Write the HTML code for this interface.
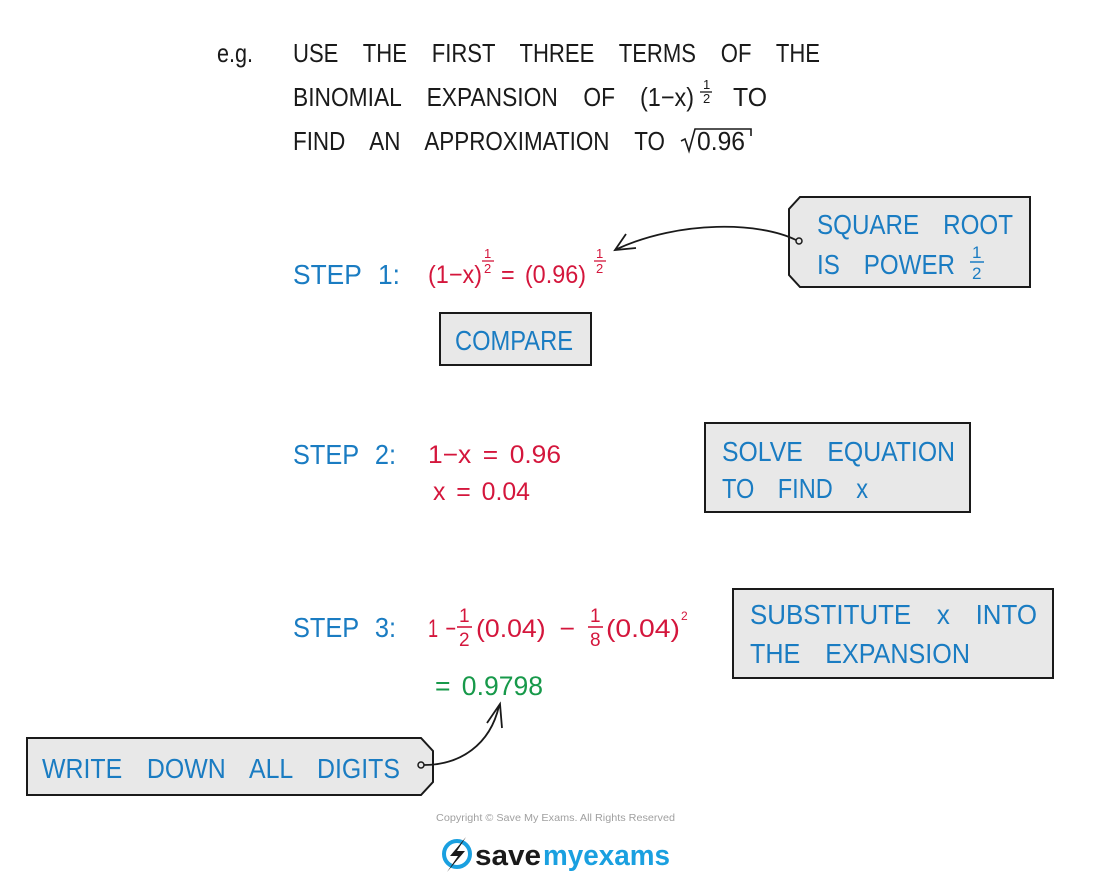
<!DOCTYPE html>
<html><head><meta charset="utf-8"><style>
html,body{margin:0;padding:0;background:#fff;width:1100px;height:884px;overflow:hidden}
svg text{font-family:"Liberation Sans",sans-serif}
.k{fill:#1a1a1a;font-size:26px}
.b{fill:#1a7cc2;font-size:28px}
.r{fill:#d4163c;font-size:25px}
.g{fill:#17994a;font-size:27px}
.f{font-size:13px}
</style></head><body>
<svg width="1100" height="884" viewBox="0 0 1100 884" xmlns="http://www.w3.org/2000/svg">
<!-- header -->
<text class="k" x="217" y="62" textLength="36" lengthAdjust="spacingAndGlyphs">e.g.</text>
<text class="k" x="293" y="62" textLength="527" lengthAdjust="spacingAndGlyphs" word-spacing="22">USE THE FIRST THREE TERMS OF THE</text>
<text class="k" x="293" y="106" textLength="322" lengthAdjust="spacingAndGlyphs" word-spacing="22">BINOMIAL EXPANSION OF</text>
<text class="k" x="640" y="106" textLength="54" lengthAdjust="spacingAndGlyphs">(1−x)</text>
<text class="k f" x="703" y="89">1</text><line x1="700" y1="92" x2="712" y2="92" stroke="#1a1a1a" stroke-width="1.3"/><text class="k f" x="703" y="103">2</text>
<text class="k" x="733" y="106" textLength="34" lengthAdjust="spacingAndGlyphs">TO</text>
<text class="k" x="293" y="150" textLength="372" lengthAdjust="spacingAndGlyphs" word-spacing="22">FIND AN APPROXIMATION TO</text>
<path d="M681 141 L685 139 L689 151 L695 129 L751 129 L751 136" fill="none" stroke="#1a1a1a" stroke-width="1.6"/>
<text class="k" x="697" y="150" textLength="48" lengthAdjust="spacingAndGlyphs">0.96</text>

<!-- step 1 -->
<text class="b" x="293" y="284" textLength="107" lengthAdjust="spacingAndGlyphs" word-spacing="10">STEP 1:</text>
<text class="r" x="428" y="283" textLength="54" lengthAdjust="spacingAndGlyphs">(1−x)</text>
<text class="r f" x="484" y="258">1</text><line x1="482" y1="261" x2="494" y2="261" stroke="#d4163c" stroke-width="1.3"/><text class="r f" x="484" y="273">2</text>
<text class="r" x="501" y="283" textLength="85" lengthAdjust="spacingAndGlyphs" word-spacing="4">= (0.96)</text>
<text class="r f" x="596" y="258">1</text><line x1="594" y1="261" x2="606" y2="261" stroke="#d4163c" stroke-width="1.3"/><text class="r f" x="596" y="273">2</text>

<polygon points="800,197 1030,197 1030,287 800,287 789,275 789,209" fill="#e8e8e8" stroke="#1a1a1a" stroke-width="2"/>
<text class="b" x="817" y="234" textLength="196" lengthAdjust="spacingAndGlyphs" word-spacing="20">SQUARE ROOT</text>
<text class="b" x="817" y="274" textLength="138" lengthAdjust="spacingAndGlyphs" word-spacing="20">IS POWER</text>
<text class="b" x="972" y="258" style="font-size:17px">1</text><line x1="970" y1="262" x2="984" y2="262" stroke="#1a7cc2" stroke-width="1.5"/><text class="b" x="972" y="279" style="font-size:17px">2</text>
<circle cx="799" cy="241" r="3" fill="none" stroke="#1a1a1a" stroke-width="1.5"/>
<path d="M796 240 C760 222 680 220 617 249" fill="none" stroke="#1a1a1a" stroke-width="1.8"/>
<path d="M626 234 L615 250 L636 248" fill="none" stroke="#1a1a1a" stroke-width="1.8"/>

<rect x="440" y="313" width="151" height="52" fill="#e8e8e8" stroke="#1a1a1a" stroke-width="2"/>
<text class="b" x="455" y="350" textLength="118" lengthAdjust="spacingAndGlyphs">COMPARE</text>

<!-- step 2 -->
<text class="b" x="293" y="464" textLength="103" lengthAdjust="spacingAndGlyphs" word-spacing="10">STEP 2:</text>
<text class="r" x="428" y="463" textLength="133" lengthAdjust="spacingAndGlyphs" word-spacing="4">1−x = 0.96</text>
<text class="r" x="433" y="500" textLength="97" lengthAdjust="spacingAndGlyphs" word-spacing="4">x = 0.04</text>
<rect x="705" y="423" width="265" height="89" fill="#e8e8e8" stroke="#1a1a1a" stroke-width="2"/>
<text class="b" x="722" y="461" textLength="233" lengthAdjust="spacingAndGlyphs" word-spacing="20">SOLVE EQUATION</text>
<text class="b" x="722" y="498" textLength="146" lengthAdjust="spacingAndGlyphs" word-spacing="20">TO FIND x</text>

<!-- step 3 -->
<text class="b" x="293" y="637" textLength="103" lengthAdjust="spacingAndGlyphs" word-spacing="10">STEP 3:</text>
<text class="r" x="428" y="637" textLength="28" lengthAdjust="spacingAndGlyphs" word-spacing="3">1 −</text>
<text class="r" x="459" y="622" style="font-size:19px">1</text><line x1="457" y1="627" x2="472" y2="627" stroke="#d4163c" stroke-width="1.6"/><text class="r" x="459" y="646" style="font-size:19px">2</text>
<text class="r" x="476" y="637" textLength="99" lengthAdjust="spacingAndGlyphs" word-spacing="6">(0.04) −</text>
<text class="r" x="590" y="622" style="font-size:19px">1</text><line x1="588" y1="627" x2="603" y2="627" stroke="#d4163c" stroke-width="1.6"/><text class="r" x="590" y="646" style="font-size:19px">8</text>
<text class="r" x="606" y="637" textLength="74" lengthAdjust="spacingAndGlyphs">(0.04)</text>
<text class="r" x="681" y="620" style="font-size:12px">2</text>
<text class="g" x="435" y="695" textLength="108" lengthAdjust="spacingAndGlyphs" word-spacing="4">= 0.9798</text>

<rect x="733" y="589" width="320" height="89" fill="#e8e8e8" stroke="#1a1a1a" stroke-width="2"/>
<text class="b" x="750" y="624" textLength="287" lengthAdjust="spacingAndGlyphs" word-spacing="20">SUBSTITUTE x INTO</text>
<text class="b" x="750" y="663" textLength="220" lengthAdjust="spacingAndGlyphs" word-spacing="20">THE EXPANSION</text>

<polygon points="27,738 421,738 433,751 433,782 421,795 27,795" fill="#e8e8e8" stroke="#1a1a1a" stroke-width="2"/>
<text class="b" x="42" y="778" textLength="358" lengthAdjust="spacingAndGlyphs" word-spacing="20">WRITE DOWN ALL DIGITS</text>
<circle cx="421" cy="765" r="3" fill="none" stroke="#1a1a1a" stroke-width="1.5"/>
<path d="M424 765 C460 765 490 745 499 706" fill="none" stroke="#1a1a1a" stroke-width="1.8"/>
<path d="M487 723 L500 704 L502 728" fill="none" stroke="#1a1a1a" stroke-width="1.8"/>

<!-- footer -->
<text x="436" y="821" fill="#a0a0a0" style="font-size:10.5px" textLength="239" lengthAdjust="spacingAndGlyphs">Copyright © Save My Exams. All Rights Reserved</text>
<circle cx="457" cy="854" r="13" fill="none" stroke="#1aa0e0" stroke-width="4"/>
<path d="M466 837 L450 856 L458 856 L447 872 L465 851 L457 851 Z" fill="#1a1a1a"/>
<text x="475" y="865" fill="#1a1a1a" style="font-size:29px;font-weight:bold" textLength="66" lengthAdjust="spacingAndGlyphs">save</text>
<text x="543" y="865" fill="#1aa0e0" style="font-size:29px;font-weight:bold" textLength="127" lengthAdjust="spacingAndGlyphs">myexams</text>
</svg>
</body></html>
